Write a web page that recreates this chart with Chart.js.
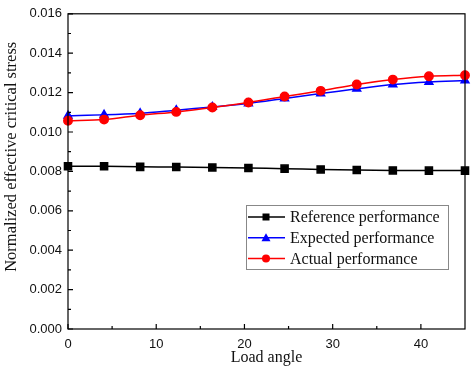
<!DOCTYPE html>
<html>
<head>
<meta charset="utf-8">
<script src="https://cdn.jsdelivr.net/npm/chart.js@4/dist/chart.umd.min.js"></script>
<style>
  html, body { margin: 0; padding: 0; background: #fff; }
  #wrap { width: 474px; height: 375px; }
</style>
</head>
<body>
<div id="wrap"><canvas id="chart" width="474" height="375"></canvas></div>
<script>
// --- data ---
const loadAngles = [0, 4.09, 8.18, 12.27, 16.36, 20.45, 24.55, 28.64, 32.73, 36.82, 40.91, 45];
const referencePerf = [0.00826, 0.00826, 0.00823, 0.00822, 0.00820, 0.00817, 0.00814, 0.00810, 0.00807, 0.00805, 0.00804, 0.00804];
const expectedPerf  = [0.01083, 0.01087, 0.01095, 0.01111, 0.01127, 0.01145, 0.01170, 0.01195, 0.01219, 0.01241, 0.01254, 0.01261];
const actualPerf    = [0.01057, 0.01063, 0.01085, 0.01102, 0.01124, 0.01150, 0.01180, 0.01209, 0.01241, 0.01266, 0.01283, 0.01288];
const seriesNames = ['Reference performance', 'Expected performance', 'Actual performance'];
const yTitle = 'Normalized effective critical stress';

const SANS = '"Liberation Sans", Arial, sans-serif';
const SERIF = '"Liberation Serif", "Times New Roman", serif';

const toPoints = (vals) => vals.map((v, i) => ({ x: loadAngles[i], y: v }));

// frame + inward ticks (major and minor) + y title (sits a bit above centre in the original)
const frameTicks = {
    id: 'frameTicks',
    afterDraw(chart) {
        const { ctx, chartArea: a } = chart;
        const xs = chart.scales.x, ys = chart.scales.y;
        ctx.save();
        ctx.strokeStyle = '#000';
        ctx.lineWidth = 1.2;
        ctx.strokeRect(a.left, a.top, a.right - a.left, a.bottom - a.top);
        ctx.beginPath();
        xs.ticks.forEach(t => {
            const px = xs.getPixelForValue(t.value);
            ctx.moveTo(px, a.bottom); ctx.lineTo(px, a.bottom - 5);
            const mx = xs.getPixelForValue(t.value + 5);
            if (t.value + 5 < xs.max) { ctx.moveTo(mx, a.bottom); ctx.lineTo(mx, a.bottom - 3); }
        });
        ys.ticks.forEach(t => {
            const py = ys.getPixelForValue(t.value);
            ctx.moveTo(a.left, py); ctx.lineTo(a.left + 5, py);
            if (t.value + 0.001 < ys.max) {
                const my = ys.getPixelForValue(t.value + 0.001);
                ctx.moveTo(a.left, my); ctx.lineTo(a.left + 3, my);
            }
        });
        ctx.stroke();

        ctx.translate(12, a.top + 143);
        ctx.rotate(-Math.PI / 2);
        ctx.font = '16.5px ' + SERIF;
        ctx.fillStyle = '#111';
        ctx.textAlign = 'center';
        ctx.textBaseline = 'middle';
        ctx.fillText(yTitle, 0, 0);
        ctx.restore();
    }
};

// legend box inside the plot, lower right
const boxLegend = {
    id: 'boxLegend',
    afterDraw(chart) {
        const { ctx, chartArea: a } = chart;
        const x0 = a.right - 219, y0 = a.bottom - 124, w = 202, h = 64;
        ctx.save();
        ctx.fillStyle = '#fff';
        ctx.fillRect(x0, y0, w, h);
        ctx.strokeStyle = '#888';
        ctx.lineWidth = 1;
        ctx.strokeRect(x0 + 0.5, y0 + 0.5, w, h);
        ctx.font = '16px ' + SERIF;
        ctx.textBaseline = 'middle';
        seriesNames.forEach((name, row) => {
            const ds = chart.data.datasets.find(d => d.label === name);
            const cy = y0 + 12 + row * 20.8;
            ctx.strokeStyle = ds.borderColor;
            ctx.lineWidth = 1.5;
            ctx.beginPath();
            ctx.moveTo(x0 + 2, cy); ctx.lineTo(x0 + 39, cy);
            ctx.stroke();
            ctx.fillStyle = ds.borderColor;
            const mx = x0 + 20;
            ctx.beginPath();
            if (ds.pointStyle === 'rect') ctx.rect(mx - 3.5, cy - 3.5, 7, 7);
            else if (ds.pointStyle === 'triangle') { ctx.moveTo(mx, cy - 4.5); ctx.lineTo(mx + 4.5, cy + 3.5); ctx.lineTo(mx - 4.5, cy + 3.5); ctx.closePath(); }
            else ctx.arc(mx, cy, 4, 0, Math.PI * 2);
            ctx.fill();
            ctx.fillStyle = '#111';
            ctx.fillText(ds.label, x0 + 44, cy + 1);
        });
        ctx.restore();
    }
};

new Chart(document.getElementById('chart'), {
    type: 'line',
    data: {
        datasets: [
            {
                label: seriesNames[0], data: toPoints(referencePerf), order: 2,
                borderColor: '#000', backgroundColor: '#000', borderWidth: 1.5,
                pointStyle: 'rect', pointRadius: 5, tension: 0.3, clip: false
            },
            {
                label: seriesNames[1], data: toPoints(expectedPerf), order: 1,
                borderColor: '#0000ff', backgroundColor: '#0000ff', borderWidth: 1.5,
                pointStyle: 'triangle', pointRadius: 4.5, tension: 0.3, clip: false
            },
            {
                label: seriesNames[2], data: toPoints(actualPerf), order: 0,
                borderColor: '#ff0000', backgroundColor: '#ff0000', borderWidth: 1.5,
                pointStyle: 'circle', pointRadius: 4.2, tension: 0.3, clip: false
            }
        ]
    },
    options: {
        responsive: false,
        animation: false,
        devicePixelRatio: 1,
        layout: { padding: { top: 11, right: 9, left: 0, bottom: 0 } },
        plugins: { legend: { display: false }, tooltip: { enabled: false } },
        scales: {
            x: {
                type: 'linear', min: 0, max: 45,
                grid: { display: false, drawTicks: false },
                border: { display: false },
                ticks: { stepSize: 10, includeBounds: false, padding: 8, color: '#111', font: { size: 13, family: SANS } },
                title: { display: true, text: 'Load angle', color: '#111', font: { size: 16, family: SERIF }, padding: { top: 0, bottom: 8 } },
                afterFit: (s) => { s.height = 46; }
            },
            y: {
                min: 0, max: 0.016,
                grid: { display: false, drawTicks: false },
                border: { display: false },
                ticks: { stepSize: 0.002, padding: 6, color: '#111', font: { size: 13, family: SANS },
                    callback: (v) => v.toFixed(3) },
                afterFit: (s) => { s.width = 68; }
            }
        }
    },
    plugins: [frameTicks, boxLegend]
});
</script>
</body>
</html>
